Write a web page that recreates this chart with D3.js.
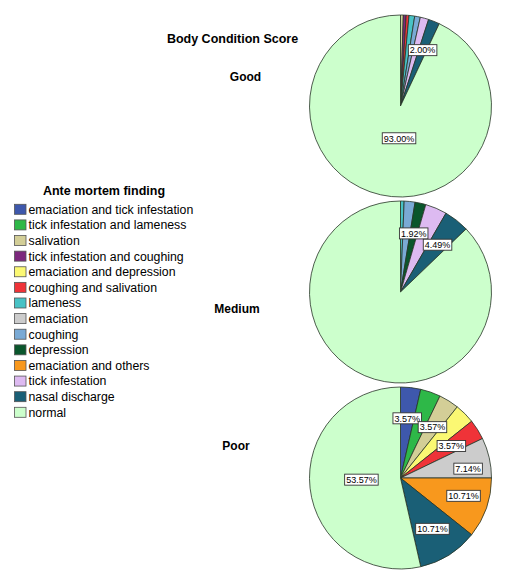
<!DOCTYPE html>
<html>
<head>
<meta charset="utf-8">
<script src="https://cdn.jsdelivr.net/npm/d3@7"></script>
<style>
  html, body { margin: 0; padding: 0; background: #fff; }
  svg { display: block; font-family: "Liberation Sans", Arial, sans-serif; }
</style>
</head>
<body>
<script>
// ---- data ----
const categories = [
  "emaciation and tick infestation",
  "tick infestation and lameness",
  "salivation",
  "tick infestation and coughing",
  "emaciation and depression",
  "coughing and salivation",
  "lameness",
  "emaciation",
  "coughing",
  "depression",
  "emaciation and others",
  "tick infestation",
  "nasal discharge",
  "normal"
];
const colors = [
  "#3e58ac", "#2eb848", "#d3ce97", "#7c287d", "#fbf873", "#ef3338", "#48c2c5",
  "#cccccc", "#7aaad5", "#0a562c", "#f8981d", "#ddbaf1", "#1a5f76", "#ccffcc"
];
const groups = ["Good", "Medium", "Poor"];
const goodValues   = [0, 0, 0.5, 0.5, 0, 0.5, 1, 0, 1, 0, 0, 1.5, 2, 93];
const mediumValues = [0, 0, 0, 0, 0, 0, 1, 0, 3, 3, 0, 6, 7, 136];
const poorValues   = [1, 1, 1, 0, 1, 1, 0, 2, 0, 0, 3, 0, 3, 15];
// which slice labels are displayed in each pie (category indices)
const goodLabels   = [12, 13];
const mediumLabels = [9, 12];
const poorLabels   = [0, 2, 5, 7, 10, 12, 13];

const chartTitle = "Body Condition Score";
const legendTitle = "Ante mortem finding";

// ---- layout / style ----
const W = 506, H = 574;
const R = 91;
const cx = 400.5;
const centersY = [106, 292, 478];
const groupLabelPos = [[245.5, 77], [237, 309], [236, 446]];
// label placement: radius factor and angle shift (deg) per pie/slice
const labelTweaks = {
  "0-13": { r: 0.355, a: -10 },
  "2-13": { r: 0.43, a: 4 },
  "2-7": { r: 0.75, a: 5 },
  "2-10": { r: 0.72, a: -3.5 }
};

const svg = d3.select("body").append("svg")
  .attr("width", W).attr("height", H)
  .attr("viewBox", `0 0 ${W} ${H}`);
svg.append("rect").attr("width", W).attr("height", H).attr("fill", "#fff");

svg.append("text")
  .attr("x", 232.5).attr("y", 42.5)
  .attr("text-anchor", "middle")
  .attr("font-size", 12.5).attr("font-weight", "bold")
  .attr("fill", "#000")
  .text(chartTitle);

const allValues = [goodValues, mediumValues, poorValues];
const allLabels = [goodLabels, mediumLabels, poorLabels];

const pie = d3.pie().sort(null).value(d => d.v);
const arc = d3.arc().innerRadius(0).outerRadius(R);

allValues.forEach((vals, gi) => {
  const total = d3.sum(vals);
  const data = vals.map((v, i) => ({ v, i }));
  const arcs = pie(data);
  const g = svg.append("g").attr("transform", `translate(${cx},${centersY[gi]})`);

  g.selectAll("path")
    .data(arcs.filter(a => a.data.v > 0))
    .join("path")
    .attr("d", arc)
    .attr("fill", d => colors[d.data.i])
    .attr("stroke", "#263326")
    .attr("stroke-width", 0.8)
    .attr("stroke-linejoin", "round");

  // group label
  svg.append("text")
    .attr("x", groupLabelPos[gi][0]).attr("y", groupLabelPos[gi][1] + 4)
    .attr("text-anchor", "middle")
    .attr("font-size", 12).attr("font-weight", "bold")
    .attr("fill", "#000")
    .text(groups[gi]);

  // slice labels
  allLabels[gi].forEach(idx => {
    const a = arcs[idx];
    const tw = labelTweaks[`${gi}-${idx}`] || { r: 0.66, a: 0 };
    const ang = (a.startAngle + a.endAngle) / 2 + tw.a * Math.PI / 180;
    const rr = R * tw.r;
    const x = rr * Math.sin(ang), y = -rr * Math.cos(ang);
    const txt = (a.data.v / total * 100).toFixed(2) + "%";
    const lg = g.append("g").attr("transform", `translate(${x},${y})`);
    const t = lg.append("text")
      .attr("text-anchor", "middle")
      .attr("y", 3.3)
      .attr("font-size", 9)
      .attr("fill", "#000")
      .text(txt);
    const bb = t.node().getBBox();
    lg.insert("rect", "text")
      .attr("x", bb.x - 1.5).attr("y", -5.5)
      .attr("width", bb.width + 3).attr("height", 11)
      .attr("fill", "#fff")
      .attr("stroke", "#333").attr("stroke-width", 0.9);
  });
});

// ---- legend ----
const legend = svg.append("g");
legend.append("text")
  .attr("x", 104).attr("y", 194.5)
  .attr("text-anchor", "middle")
  .attr("font-size", 12.5).attr("font-weight", "bold")
  .attr("fill", "#000")
  .text(legendTitle);

const ly = d3.scalePoint().domain(d3.range(categories.length)).range([209.3, 412.3]);
const items = legend.selectAll("g.item")
  .data(categories)
  .join("g").attr("class", "item")
  .attr("transform", (d, i) => `translate(0,${ly(i)})`);
items.append("rect")
  .attr("x", 14.5).attr("y", -5)
  .attr("width", 11.5).attr("height", 10)
  .attr("fill", (d, i) => colors[i])
  .attr("stroke", "#555").attr("stroke-width", 0.8);
items.append("text")
  .attr("x", 28.5).attr("y", 4.4)
  .attr("font-size", 12.3)
  .attr("fill", "#000")
  .text(d => d);
</script>
</body>
</html>
